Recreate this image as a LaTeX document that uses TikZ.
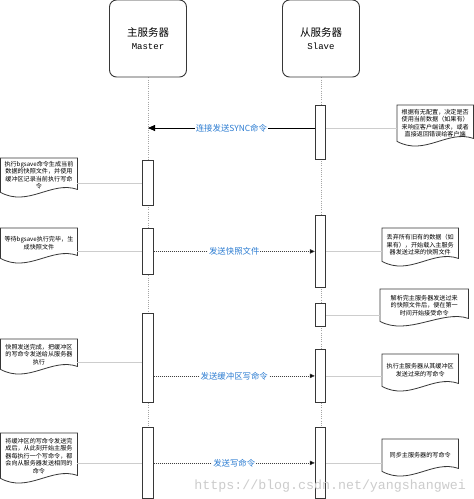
\documentclass[tikz,border=0pt]{standalone}
\usepackage{fontspec}
\newfontfamily\cjk{Noto Sans CJK SC}
\newfontfamily\monof{Liberation Mono}
\usetikzlibrary{arrows.meta}
\definecolor{edgec}{RGB}{55,55,55}
\definecolor{connc}{RGB}{205,205,205}
\definecolor{lifec}{RGB}{165,165,165}
\definecolor{lblue}{RGB}{45,125,210}
\pgfdeclarelayer{bg}
\pgfsetlayers{bg,main}
\tikzset{
  head/.style={draw=edgec, line width=0.9pt, rounded corners=7pt, fill=white,
    minimum width=77pt, minimum height=77pt, align=center, inner sep=0pt,
    font=\cjk\fontsize{10.5}{13.5}\selectfont},
  actbox/.style={draw=edgec, line width=0.8pt, fill=white, minimum width=10.5pt,
    inner sep=0pt, anchor=north},
  note/.style={anchor=north west, align=center, inner sep=1pt,
    font=\cjk\fontsize{6.1}{7.5}\selectfont},
  noteline/.style={draw=edgec, line width=0.8pt, fill=white},
  conn/.style={draw=connc, line width=0.6pt},
  lifeline/.style={draw=lifec, line width=0.5pt, dash pattern=on 1pt off 1.2pt},
  syncarrow/.style={draw=black, line width=0.8pt, -{Triangle[length=7pt,width=6pt]}},
  msgarrow/.style={draw=black!75, line width=0.6pt, dash pattern=on 1pt off 1pt,
    -{Triangle[length=5pt,width=4.5pt,fill=black]}},
  msglabel/.style={midway, fill=white, inner sep=1pt, text=lblue,
    font=\cjk\fontsize{8.4}{10}\selectfont},
}
\newcommand\docoutline[1]{%
  \path[noteline] (#1.north west) -- (#1.north east) -- ([yshift=3pt]#1.south east)
    .. controls +(-26,-9) and +(28,15) .. (#1.south west) -- cycle;}
\begin{document}
\begin{tikzpicture}[x=1pt,y=-1pt]
\useasboundingbox (0,0) rectangle (474,499);
\begin{pgfonlayer}{bg}
\fill[white] (0,0) rectangle (474,499);
\end{pgfonlayer}
\coordinate (bot) at (0,499);

% headers
\node[head] (mhead) at (148,38.5) {主服务器\\[-1pt]{\monof\fontsize{9}{11}\selectfont Master}};
\node[head] (shead) at (321,38.5) {从服务器\\[-1pt]{\monof\fontsize{9}{11}\selectfont Slave}};

% lifelines
\begin{pgfonlayer}{bg}
\draw[lifeline] (mhead.south) -- (mhead.south |- bot);
\draw[lifeline] (shead.south) -- (shead.south |- bot);
\end{pgfonlayer}

% activation boxes
\node[actbox, minimum height=54pt] (sa1) at (320.5,105) {};
\node[actbox, minimum height=45pt] (ma1) at (148,160) {};
\node[actbox, minimum height=46pt] (ma2) at (148,228) {};
\node[actbox, minimum height=72pt] (sa2) at (320.5,215) {};
\node[actbox, minimum height=23pt] (sa3) at (320.5,303) {};
\node[actbox, minimum height=89pt] (ma3) at (148,313) {};
\node[actbox, minimum height=53pt] (sa4) at (320.5,349) {};
\node[actbox, minimum height=71pt] (ma5) at (148,427) {};
\node[actbox, minimum height=71pt] (sa5) at (320.5,427) {};

% notes
\node[note, minimum width=76pt, minimum height=36pt] (sn1) at (397,105)
  {根据有无配置，决定是否\\使用当前数据（如果有）\\来响应客户端请求，或者\\直接返回错误给客户端};
\node[note, minimum width=76.5pt, minimum height=34pt] (mn1) at (0.5,158)
  {执行bgsave命令生成当前\\数据的快照文件，并使用\\缓冲区记录当前执行写命\\令};
\node[note, minimum width=76.5pt, minimum height=30pt] (mn2) at (0.5,228)
  {等待bgsave执行完毕，生\\成快照文件};
\node[note, minimum width=76pt, minimum height=33pt] (sn2) at (382,228)
  {丢弃所有旧有的数据（如\\果有），开始载入主服务\\器发送过来的快照文件};
\node[note, minimum width=88pt, minimum height=32pt] (sn3) at (380,289)
  {解析完主服务器发送过来\\的快照文件后，便在第一\\时间开始接受命令};
\node[note, minimum width=76.5pt, minimum height=30pt] (mn3) at (0.5,339)
  {快照发送完成，把缓冲区\\的写命令发送给从服务器\\执行};
\node[note, minimum width=76pt, minimum height=32pt] (sn4) at (382,354)
  {执行主服务器从其缓冲区\\发送过来的写命令};
\node[note, minimum width=76.5pt, minimum height=45pt] (mn5) at (0.5,433)
  {将缓冲区的写命令发送完\\成后，从此刻开始主服务\\器每执行一个写命令，都\\会向从服务器发送相同的\\命令};
\node[note, minimum width=76pt, minimum height=32pt] (sn5) at (382,439)
  {同步主服务器的写命令};

% note outlines behind the note texts
\begin{pgfonlayer}{bg}
\foreach \n in {sn1,mn1,mn2,sn2,sn3,mn3,sn4,mn5,sn5}{\docoutline{\n}}
\end{pgfonlayer}

% helper coordinates
\coordinate (ml1) at (148,128);
\coordinate (y362) at (0,362);

% gray connectors from notes
\draw[conn] (sa1.east |- ml1) -- (sn1.west |- ml1);
\draw[conn] (mn1.east |- ma1.west) -- (ma1.west);
\draw[conn] (mn2.east |- ma2.west) -- (ma2.west);
\draw[conn] (sa2.east) -- (sn2.west |- sa2.east);
\draw[conn] (sa3.east) -- (sn3.west |- sa3.east);
\draw[conn] (mn3.east |- y362) -- (ma3.west |- y362);
\draw[conn] (sa4.east) -- (sn4.west |- sa4.east);
\draw[conn] (mn5.east |- ma5.west) -- (ma5.west);
\draw[conn] (sa5.east) -- (sn5.west |- sa5.east);

% messages
\draw[syncarrow] (sa1.west |- ml1) -- (ml1) node[msglabel] {连接发送SYNC命令};
\draw[msgarrow] (ma2.east) -- (sa2.west |- ma2.east) node[msglabel] {发送快照文件};
\draw[msgarrow] (ma3.east |- sa4.west) -- (sa4.west) node[msglabel] {发送缓冲区写命令};
\draw[msgarrow] (ma5.east) -- (sa5.west) node[msglabel] {发送写命令};

% watermark
\node[anchor=south east, inner sep=0pt, text=black!20,
  font=\monof\fontsize{13.3}{15}\selectfont] (wm) at (466,492) {https://blog.csdn.net/yangshangwei};
\end{tikzpicture}
\end{document}
